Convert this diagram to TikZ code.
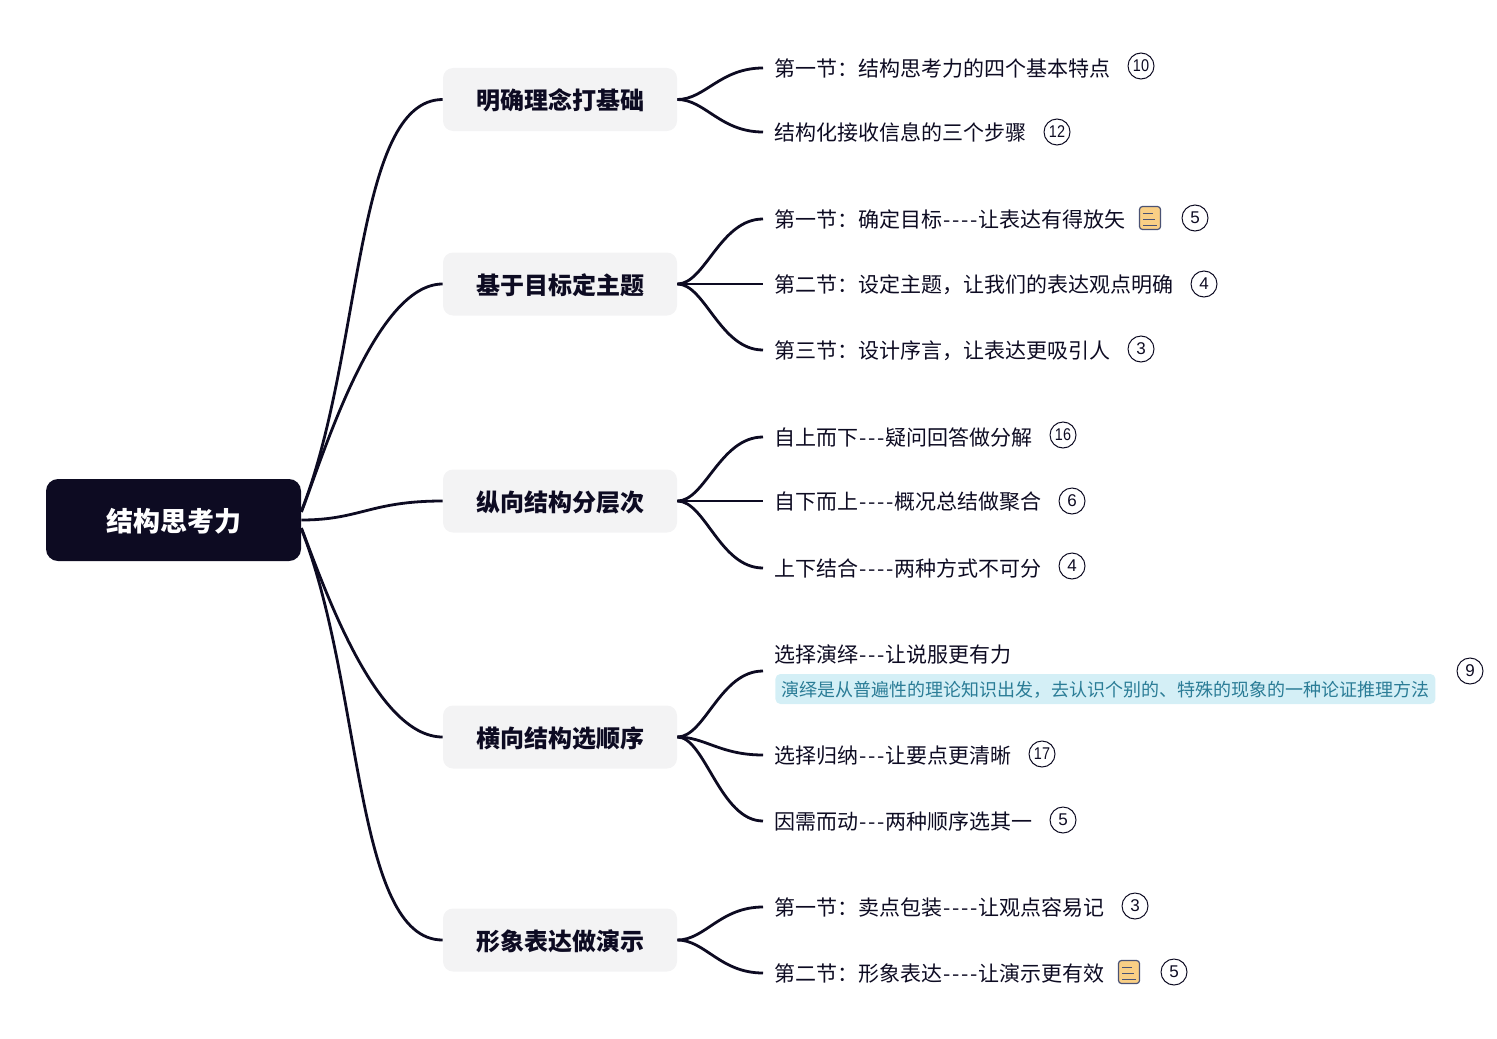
\documentclass[tikz,border=0pt]{standalone}
\usepackage{fontspec}
\setmainfont{Noto Sans CJK SC}
\newfontfamily\digitfont{Liberation Sans}
\definecolor{inkdark}{HTML}{0D0B22}
\definecolor{boxgray}{HTML}{F3F3F4}
\definecolor{notebg}{HTML}{D4EFF6}
\definecolor{notetext}{HTML}{2A7C96}
\definecolor{iconfill}{HTML}{F9CF85}
\definecolor{iconstroke}{HTML}{4A5274}
\newcommand{\hy}{\makebox[4.5pt][c]{-}}
\newcommand{\narrow}[1]{\scalebox{.85}[1]{#1}}
\tikzset{
	rootbox/.style={fill=inkdark,text=white,rounded corners=6pt,minimum width=127.5pt,minimum height=41pt,inner sep=0pt,text height=13.3pt,text depth=2pt,font=\fontsize{13.5}{16}\selectfont\bfseries},
	branchbox/.style={fill=boxgray,text=inkdark,rounded corners=5pt,minimum width=117pt,minimum height=31.5pt,inner sep=0pt,text height=12pt,text depth=2pt,font=\fontsize{12}{14}\selectfont\bfseries},
	leafbox/.style={anchor=west,text=inkdark,inner xsep=5.7pt,inner ysep=0pt,text height=10.2pt,text depth=2pt,font=\fontsize{10.5}{12}\selectfont},
	notebox/.style={anchor=west,fill=notebg,text=notetext,rounded corners=2.5pt,inner xsep=3pt,inner ysep=0pt,minimum height=15pt,text height=9.2pt,text depth=1.5pt,font=\fontsize{9}{11}\selectfont},
	countmark/.style={circle,draw=inkdark,line width=.5pt,minimum size=13pt,inner sep=0pt,text=inkdark,font=\fontsize{8.5}{10}\digitfont},
	iconbox/.style={draw=iconstroke,fill=iconfill,line width=.6pt,rounded corners=1.5pt,minimum width=10.5pt,minimum height=11.5pt,inner sep=0pt},
	iconrule/.style={draw=iconstroke,line width=.5pt},
	link/.style={draw=inkdark,line width=1.4pt}
}
\begin{document}
\begin{tikzpicture}[x=.5pt,y=-.5pt]
	\useasboundingbox (0,0) rectangle (1497,1038);
	% root and branches
	\node[rootbox] (root) at (173.5,520) {结构思考力};
	\node[branchbox] (bone) at (560,99.5) {明确理念打基础};
	\node[branchbox] (btwo) at (560,284) {基于目标定主题};
	\node[branchbox] (bthree) at (560,501) {纵向结构分层次};
	\node[branchbox] (bfour) at (560,737) {横向结构选顺序};
	\node[branchbox] (bfive) at (560,940) {形象表达做演示};
	\draw[link] ([yshift=4.5pt]root.east) .. controls (363,355) and (354,100) .. (bone.west);
	\draw[link] ([yshift=4pt]root.east) .. controls (323,456) and (375,284) .. (btwo.west);
	\draw[link] (root.east) .. controls (360,520) and (370,501) .. (bthree.west);
	\draw[link] ([yshift=-4pt]root.east) .. controls (323,584) and (375,737) .. (bfour.west);
	\draw[link] ([yshift=-4.5pt]root.east) .. controls (363,685) and (354,940) .. (bfive.west);
	% leaves
	\node[leafbox] (la) at (763,68) {第一节：结构思考力的四个基本特点};
	\node[leafbox] (lb) at (763,132) {结构化接收信息的三个步骤};
	\node[leafbox] (lc) at (763,219) {第一节：确定目标\hy\hy\hy\hy 让表达有得放矢};
	\node[leafbox] (ld) at (763,284) {第二节：设定主题，让我们的表达观点明确};
	\node[leafbox] (le) at (763,350) {第三节：设计序言，让表达更吸引人};
	\node[leafbox] (lf) at (763,437) {自上而下\hy\hy\hy 疑问回答做分解};
	\node[leafbox] (lg) at (763,501) {自下而上\hy\hy\hy\hy 概况总结做聚合};
	\node[leafbox] (lh) at (763,568) {上下结合\hy\hy\hy\hy 两种方式不可分};
	\coordinate (li) at (763,671);
	\node[leafbox] (litext) at (763,654) {选择演绎\hy\hy\hy 让说服更有力};
	\node[notebox] (linote) at (775,689) {演绎是从普遍性的理论知识出发，去认识个别的、特殊的现象的一种论证推理方法};
	\node[leafbox] (lj) at (763,755) {选择归纳\hy\hy\hy 让要点更清晰};
	\node[leafbox] (lk) at (763,821) {因需而动\hy\hy\hy 两种顺序选其一};
	\node[leafbox] (ll) at (763,907) {第一节：卖点包装\hy\hy\hy\hy 让观点容易记};
	\node[leafbox] (lm) at (763,973) {第二节：形象表达\hy\hy\hy\hy 让演示更有效};
	% connectors
	\foreach \from/\to in {bone/la,bone/lb,btwo/lc,btwo/ld,btwo/le,bthree/lf,bthree/lg,bthree/lh,bfive/ll,bfive/lm,bfour/lj,bfour/lk}
		\draw[link] (\from.east) .. controls (705,0|-\from.east) and (720,0|-\to.west) .. (\to.west);
	\draw[link] (bfour.east) .. controls (705,737) and (720,671) .. (li);
	% counts
	\node[countmark] (ca) at (1141,66) {\narrow{10}};
	\node[countmark] (cb) at (1057,132) {\narrow{12}};
	\node[countmark] (cc) at (1195,218) {5};
	\node[countmark] (cd) at (1204,284) {4};
	\node[countmark] (ce) at (1141,349) {3};
	\node[countmark] (cf) at (1063,435) {\narrow{16}};
	\node[countmark] (cg) at (1072,501) {6};
	\node[countmark] (ch) at (1072,566) {4};
	\node[countmark] (ci) at (1470,671) {9};
	\node[countmark] (cj) at (1042,754) {\narrow{17}};
	\node[countmark] (ck) at (1063,820) {5};
	\node[countmark] (cl) at (1135,906) {3};
	\node[countmark] (cm) at (1174,972) {5};
	% note icons
	\foreach \n/\cx/\cy in {ia/1150/218,ib/1129/972}{
		\node[iconbox] (\n) at (\cx,\cy) {};
		\draw[iconrule] (\cx-7,\cy-5) -- ++(10,0);
		\draw[iconrule] (\cx-7,\cy+1) -- ++(12,0);
		\draw[iconrule] (\cx-7,\cy+7) -- ++(14,0);
	}
\end{tikzpicture}
\end{document}
